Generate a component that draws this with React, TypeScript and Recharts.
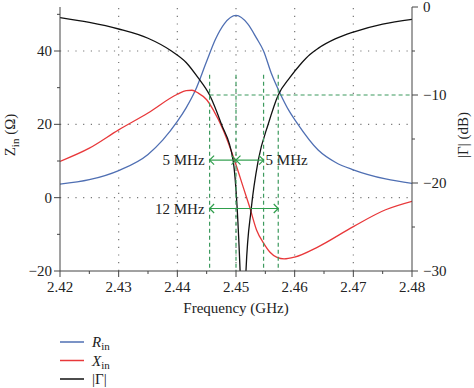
import { LineChart, Line, XAxis, YAxis, ReferenceLine } from "recharts";

// R_in (Ω)
const rinFreq = [2.42, 2.425, 2.43, 2.435, 2.4375, 2.44, 2.4415, 2.443, 2.445, 2.4465, 2.448, 2.45, 2.452, 2.4535, 2.4547, 2.456, 2.4575, 2.459, 2.4603, 2.464, 2.467, 2.47, 2.4755, 2.48];
const rinVals = [3.7, 4.9, 7.4, 11.8, 15.7, 20.8, 24.5, 29.0, 37.2, 43.2, 47.4, 49.7, 47.4, 43.5, 40.0, 34.0, 28.5, 23.8, 20.6, 13.0, 9.6, 7.6, 5.1, 3.9];

// X_in (Ω), red curve
const xinFreq = [2.42, 2.425, 2.43, 2.435, 2.44, 2.4415, 2.4425, 2.4435, 2.445, 2.4461, 2.4478, 2.4489, 2.4501, 2.4512, 2.4523, 2.4535, 2.4547, 2.4558, 2.457, 2.4582, 2.46, 2.464, 2.47, 2.4755, 2.48];
const xinVals = [9.9, 13.5, 18.5, 23.1, 28.2, 29.2, 29.3, 28.6, 26.7, 24.0, 18.5, 14.0, 8.5, 3.0, -2.4, -8.8, -12.4, -14.9, -16.3, -16.7, -16.2, -13.4, -7.9, -3.3, -1.0];

// |Γ| (dB), black curve (dips below the axis floor and is clipped)
const gammaFreq = [2.42, 2.425, 2.43, 2.435, 2.439, 2.4415, 2.4435, 2.4455, 2.4475, 2.4495, 2.4502, 2.4507, 2.4512, 2.4517, 2.4526, 2.4538, 2.4555, 2.4572, 2.4592, 2.461, 2.4626, 2.464, 2.467, 2.47, 2.475, 2.48];
const gammaVals = [-1.2, -1.75, -2.5, -3.55, -5.0, -6.3, -8.0, -10.0, -13.3, -17.4, -22.9, -30.0, -40.0, -30.0, -22.9, -17.4, -13.3, -10.0, -8.0, -6.5, -5.4, -4.7, -3.6, -2.85, -1.95, -1.4];

const freqTicks = [2.42, 2.425, 2.43, 2.435, 2.44, 2.445, 2.45, 2.455, 2.46, 2.465, 2.47, 2.475, 2.48];
const zinTicks = [-20, -10, 0, 10, 20, 30, 40, 50];
const gammaTicks = [-30, -25, -20, -15, -10, -5, 0];
const freqGrid = [2.43, 2.44, 2.45, 2.46, 2.47];
const zinGrid = [0, 20, 40];

// bandwidth annotations
const bandEdges = [2.4455, 2.45, 2.4547, 2.4572];
const bandTop = -7.7;
const matchLevel = -10;
const arrowFrom = [2.4455, 2.45, 2.4455];
const arrowTo = [2.45, 2.4547, 2.4572];
const arrowLevel = [-17.4, -17.4, -22.9];
const arrowText = ["5 MHz", "5 MHz", "12 MHz"];
const arrowSide = ["left", "right", "left"];

const FONT = "Liberation Serif, Times New Roman, serif";
const AXIS = "#444";
const TXT = "#222";
const GREEN = "#3d9a5e";
const ARROW = "#2f9e4c";
const BLUE = "#4f6fb3";
const RED = "#e8383a";
const BLACK = "#111";

const pairs = (xs: number[], ys: number[]) => xs.map((f, i) => ({ f, v: ys[i] }));
const rinData = pairs(rinFreq, rinVals);
const xinData = pairs(xinFreq, xinVals);
const gammaData = pairs(gammaFreq, gammaVals);

const fmt = (v: number) => (v < 0 ? "\u2212" + Math.abs(v) : String(v));
const txt = { fontFamily: FONT, fontSize: 15, fill: TXT };

function BottomTick({ x, y, payload }: any) {
  const major = Math.round(payload.value * 1000) % 10 === 0;
  return (
    <g>
      <line x1={x} x2={x} y1={y} y2={y + (major ? 6 : 3)} stroke={AXIS} />
      {major && (
        <text x={x} y={y + 21} textAnchor="middle" style={txt}>
          {payload.value.toFixed(2)}
        </text>
      )}
    </g>
  );
}

function TopTick({ x, y, payload }: any) {
  const major = Math.round(payload.value * 1000) % 10 === 0;
  return <line x1={x} x2={x} y1={y} y2={y - (major ? 5 : 3)} stroke={AXIS} />;
}

function LeftTick({ x, y, payload }: any) {
  const major = payload.value % 20 === 0;
  return (
    <g>
      <line x1={x - (major ? 6 : 3)} x2={x} y1={y} y2={y} stroke={AXIS} />
      {major && (
        <text x={x - 8} y={y + 5} textAnchor="end" style={txt}>
          {fmt(payload.value)}
        </text>
      )}
    </g>
  );
}

function RightTick({ x, y, payload }: any) {
  const major = payload.value % 10 === 0;
  return (
    <g>
      <line x1={x} x2={x + (major ? 6 : 3)} y1={y} y2={y} stroke={AXIS} />
      {major && (
        <text x={x + 11} y={y + 5} textAnchor="start" style={txt}>
          {fmt(payload.value)}
        </text>
      )}
    </g>
  );
}

const arrowShape = (text: string, side: string) => (p: any) => {
  const { x1, y1, x2, y2 } = p;
  const h = 4.5;
  return (
    <g>
      <line x1={x1} y1={y1} x2={x2} y2={y2} stroke={ARROW} strokeWidth={1.2} />
      <polyline points={`${x1 + h},${y1 - h} ${x1},${y1} ${x1 + h},${y1 + h}`} fill="none" stroke={ARROW} strokeWidth={1.2} />
      <polyline points={`${x2 - h},${y2 - h} ${x2},${y2} ${x2 - h},${y2 + h}`} fill="none" stroke={ARROW} strokeWidth={1.2} />
      <text x={side === "left" ? x1 - 5 : x2 + 2} y={y1 + 5} textAnchor={side === "left" ? "end" : "start"} style={txt}>
        {text}
      </text>
    </g>
  );
};

function LeftTitle({ viewBox }: any) {
  const cy = viewBox.y + viewBox.height / 2 - 4;
  return (
    <text transform={`translate(15,${cy}) rotate(-90)`} textAnchor="middle" style={txt}>
      Z<tspan style={{ fontSize: 11 }} dy={4}>in</tspan>
      <tspan dy={-4}> (Ω)</tspan>
    </text>
  );
}

function RightTitle({ viewBox }: any) {
  const cy = viewBox.y + viewBox.height / 2 - 4;
  return (
    <text transform={`translate(468,${cy}) rotate(-90)`} textAnchor="middle" style={txt}>
      |Γ| (dB)
    </text>
  );
}

function BottomTitle({ viewBox }: any) {
  return (
    <text x={viewBox.x + viewBox.width / 2} y={313} textAnchor="middle" style={txt}>
      Frequency (GHz)
    </text>
  );
}

const legendColors = [BLUE, RED, BLACK];
const legendMain = ["R", "X", "|Γ|"];
const legendSub = ["in", "in", ""];

export default function App() {
  return (
    <div style={{ position: "fixed", left: 0, top: 0, width: 474, height: 388, background: "#fff" }}>
      <LineChart width={474} height={388} margin={{ top: 7, right: 0, bottom: 72, left: 0 }}>
        <XAxis
          xAxisId="bottom"
          type="number"
          dataKey="f"
          domain={[2.42, 2.48]}
          allowDataOverflow
          ticks={freqTicks}
          interval={0}
          tick={<BottomTick />}
          tickLine={false}
          tickSize={0}
          tickMargin={0}
          height={45}
          axisLine={{ stroke: AXIS }}
          label={{ content: <BottomTitle /> }}
        />
        <XAxis
          xAxisId="top"
          orientation="top"
          type="number"
          dataKey="f"
          domain={[2.42, 2.48]}
          allowDataOverflow
          ticks={freqTicks}
          interval={0}
          tick={<TopTick />}
          tickLine={false}
          tickSize={0}
          tickMargin={0}
          height={0}
          axisLine={{ stroke: AXIS }}
        />
        <YAxis
          yAxisId="left"
          type="number"
          domain={[-20, 52]}
          allowDataOverflow
          ticks={zinTicks}
          interval={0}
          tick={<LeftTick />}
          tickLine={false}
          tickSize={0}
          tickMargin={0}
          width={60}
          axisLine={{ stroke: AXIS }}
          label={{ content: <LeftTitle /> }}
        />
        <YAxis
          yAxisId="right"
          orientation="right"
          type="number"
          domain={[-30, 0]}
          allowDataOverflow
          ticks={gammaTicks}
          interval={0}
          tick={<RightTick />}
          tickLine={false}
          tickSize={0}
          tickMargin={0}
          width={62}
          axisLine={{ stroke: AXIS }}
          label={{ content: <RightTitle /> }}
        />

        {freqGrid.map((g) => (
          <ReferenceLine key={"vx" + g} x={g} xAxisId="bottom" yAxisId="left" stroke="#777" strokeWidth={1.2} strokeDasharray="1.2 6.5" />
        ))}
        {zinGrid.map((g) => (
          <ReferenceLine key={"hy" + g} y={g} xAxisId="bottom" yAxisId="left" stroke="#777" strokeWidth={1.2} strokeDasharray="1.2 6.5" />
        ))}

        <Line xAxisId="bottom" yAxisId="left" data={rinData} dataKey="v" type="monotone" stroke={BLUE} strokeWidth={1.3} dot={false} isAnimationActive={false} />
        <Line xAxisId="bottom" yAxisId="left" data={xinData} dataKey="v" type="monotone" stroke={RED} strokeWidth={1.3} dot={false} isAnimationActive={false} />
        <Line xAxisId="bottom" yAxisId="right" data={gammaData} dataKey="v" type="monotone" stroke={BLACK} strokeWidth={1.3} dot={false} isAnimationActive={false} />

        {bandEdges.map((b) => (
          <ReferenceLine
            key={"be" + b}
            xAxisId="bottom"
            yAxisId="right"
            segment={[{ x: b, y: bandTop }, { x: b, y: -30 }]}
            stroke={GREEN}
            strokeWidth={1.2}
            strokeDasharray="4 3"
          />
        ))}
        <ReferenceLine
          xAxisId="bottom"
          yAxisId="right"
          segment={[{ x: bandEdges[0], y: matchLevel }, { x: 2.48, y: matchLevel }]}
          stroke={GREEN}
          strokeWidth={1.2}
          strokeDasharray="4 3"
        />
        {arrowFrom.map((a, i) => (
          <ReferenceLine
            key={"ar" + i}
            xAxisId="bottom"
            yAxisId="right"
            segment={[{ x: a, y: arrowLevel[i] }, { x: arrowTo[i], y: arrowLevel[i] }]}
            stroke={ARROW}
            shape={arrowShape(arrowText[i], arrowSide[i])}
          />
        ))}
      </LineChart>

      <svg width={200} height={60} style={{ position: "absolute", left: 0, top: 332 }}>
        {legendColors.map((c, i) => (
          <g key={i}>
            <line x1={60} x2={84} y1={10 + i * 18.5} y2={10 + i * 18.5} stroke={c} strokeWidth={1.5} />
            <text x={92} y={15 + i * 18.5} style={{ ...txt, fontStyle: legendSub[i] ? "italic" : "normal" }}>
              {legendMain[i]}
              {legendSub[i] && (
                <tspan dy={3} style={{ fontSize: 11, fontStyle: "normal" }}>
                  {legendSub[i]}
                </tspan>
              )}
            </text>
          </g>
        ))}
      </svg>
    </div>
  );
}
